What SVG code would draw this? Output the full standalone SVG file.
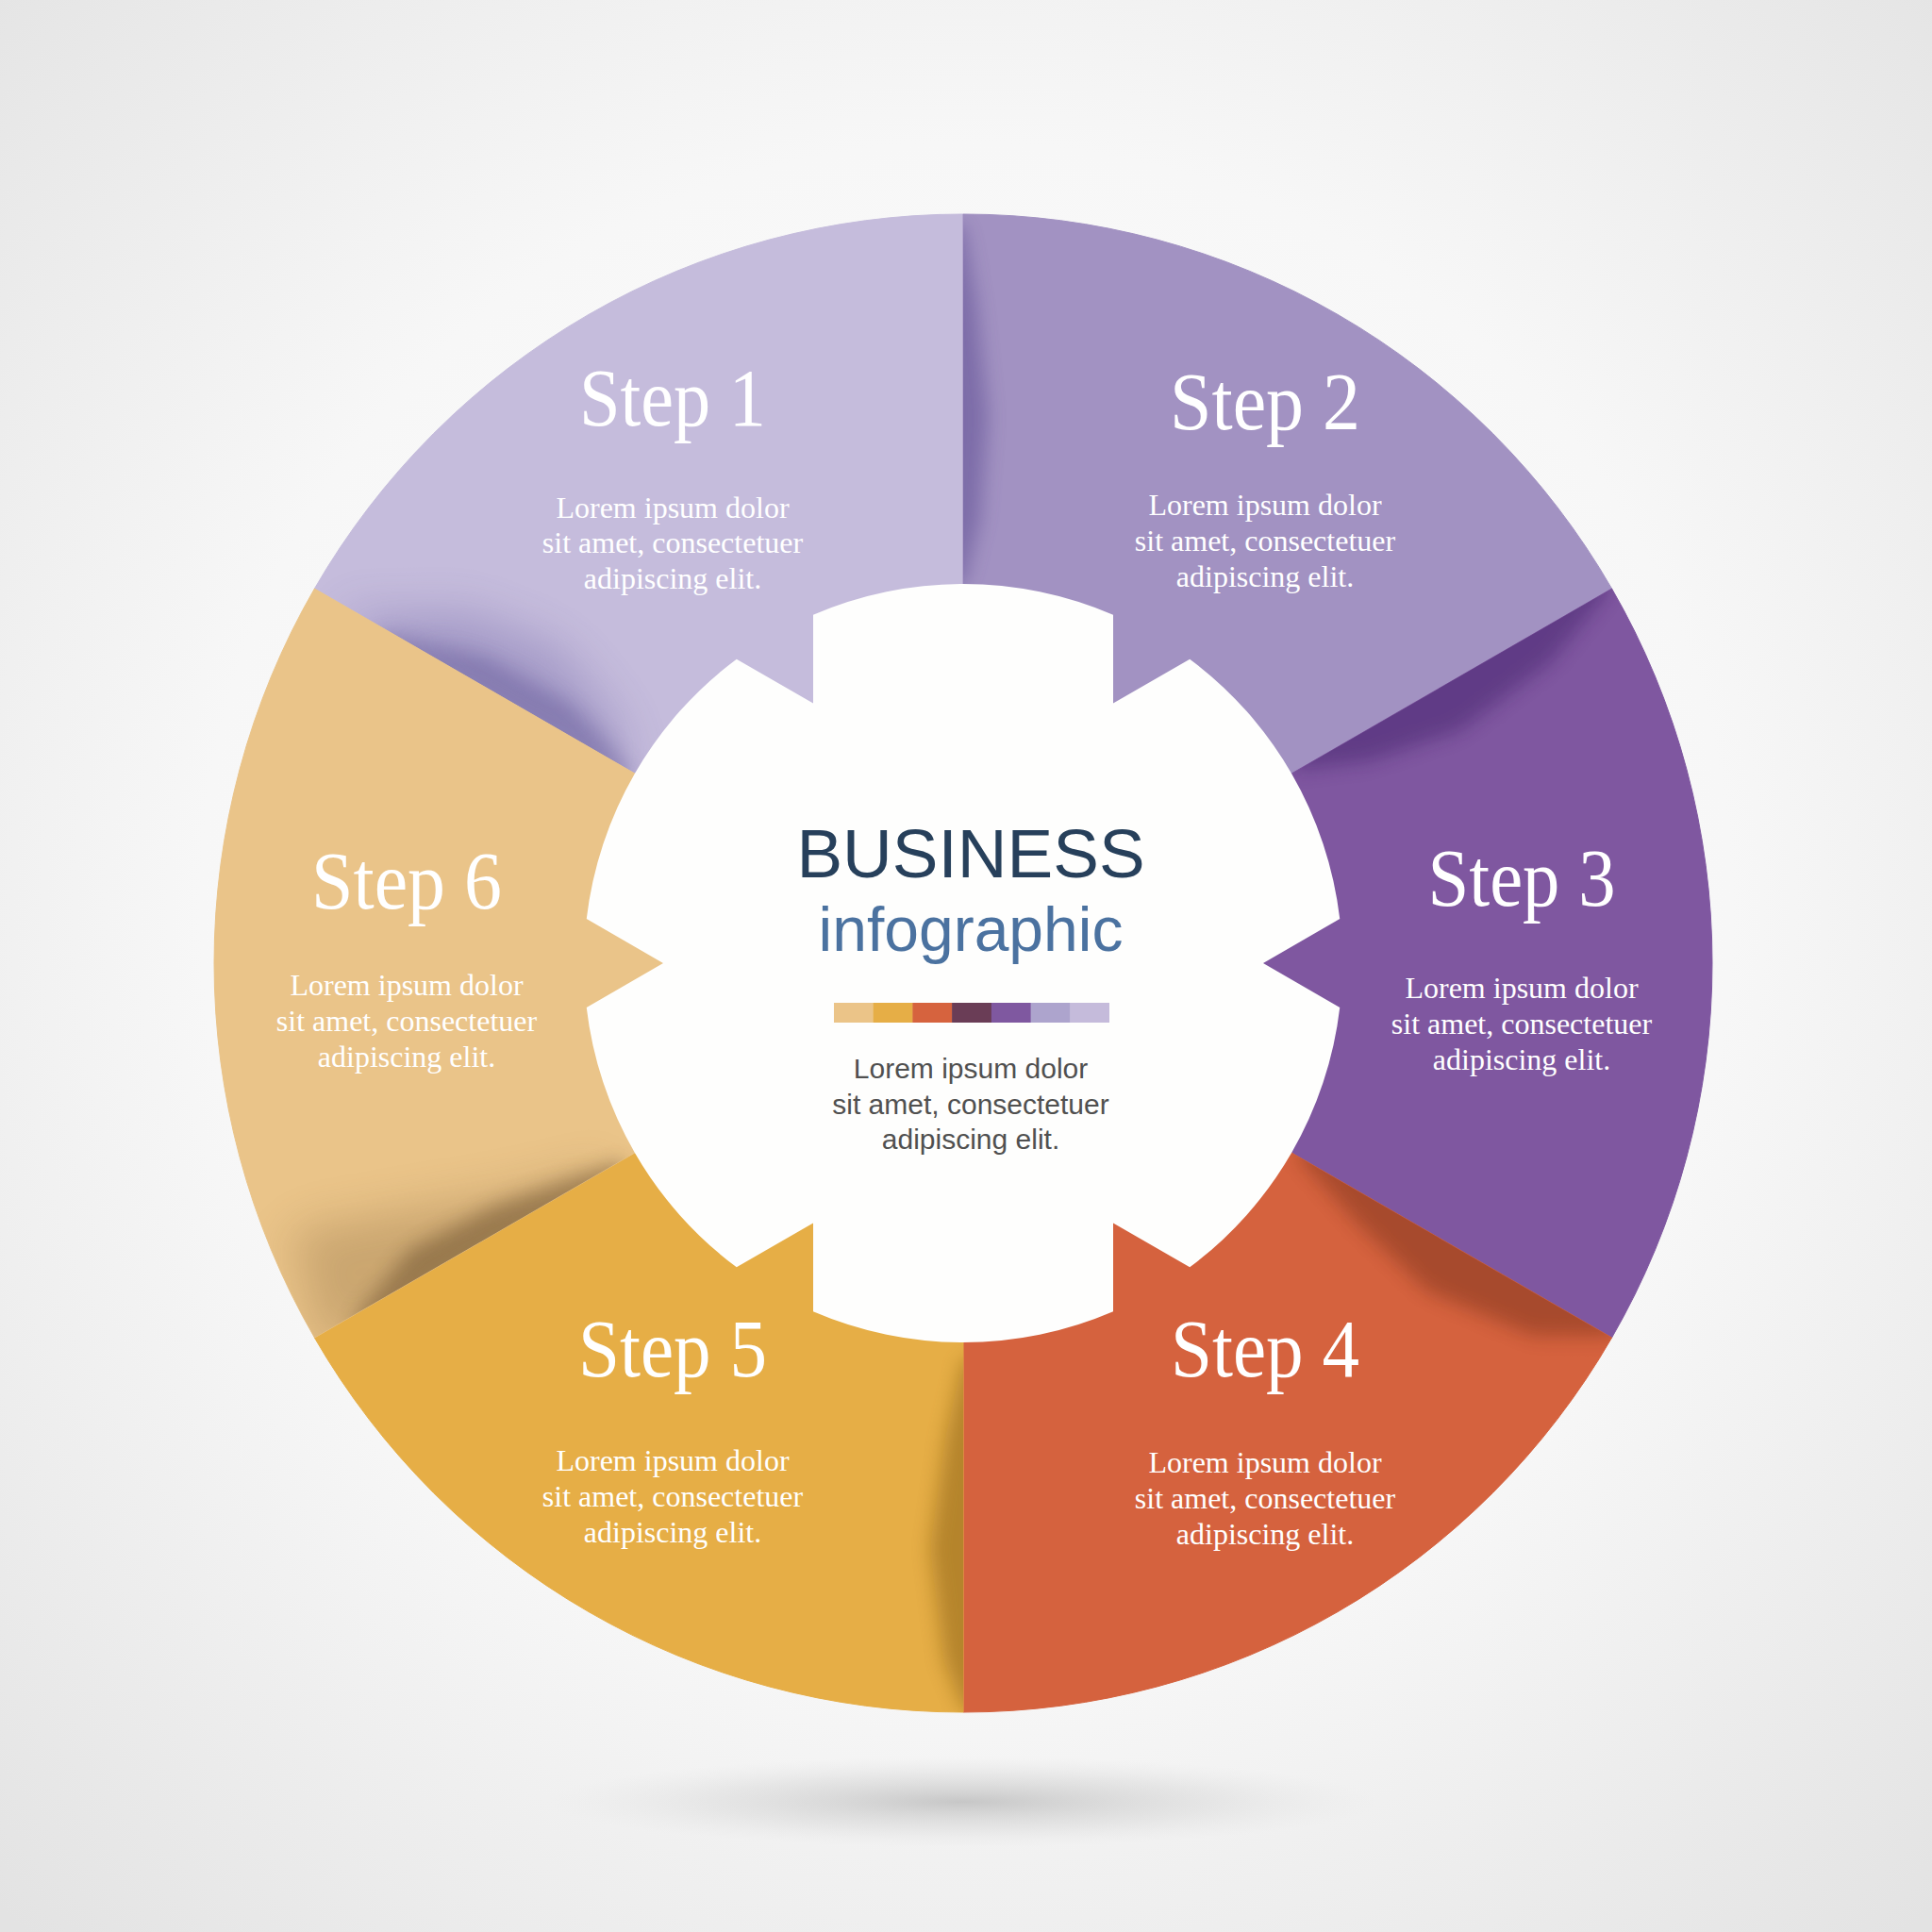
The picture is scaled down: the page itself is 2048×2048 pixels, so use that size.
<svg xmlns="http://www.w3.org/2000/svg" width="2048" height="2048" viewBox="0 0 2048 2048">
  <defs>
    <style>
      .title { font-family: "Liberation Serif", "Times New Roman", serif; font-size: 86px; fill: #ffffff; text-anchor: middle; }
      .body { font-family: "Liberation Serif", "Times New Roman", serif; font-size: 32px; fill: #ffffff; text-anchor: middle; }
      .ctext { font-family: "Liberation Sans", Arial, sans-serif; font-size: 30px; fill: #505050; text-anchor: middle; }
      .curl { filter: url(#blur); }
      .soft { filter: url(#blurWide); }
    </style>
    <radialGradient id="bg" cx="50%" cy="47%" r="72%">
      <stop offset="0" stop-color="#ffffff"/>
      <stop offset="0.55" stop-color="#f7f7f7"/>
      <stop offset="1" stop-color="#e3e3e3"/>
    </radialGradient>
    <radialGradient id="floor" cx="50%" cy="50%" r="50%">
      <stop offset="0" stop-color="#b8b8b8" stop-opacity="0.75"/>
      <stop offset="0.6" stop-color="#cfcfcf" stop-opacity="0.35"/>
      <stop offset="1" stop-color="#e0e0e0" stop-opacity="0"/>
    </radialGradient>
    <filter id="blur" filterUnits="userSpaceOnUse" x="-1100" y="-1100" width="2200" height="2200">
      <feGaussianBlur stdDeviation="10"/>
    </filter>
    <filter id="blurWide" filterUnits="userSpaceOnUse" x="-1100" y="-1100" width="2200" height="2200">
      <feGaussianBlur stdDeviation="24"/>
    </filter>
    <clipPath id="c1"><path d="M1021 1021 L1021 227 A794 794 0 0 0 333.4 624 Z"/></clipPath>
    <clipPath id="c2"><path d="M1021 1021 L1708.6 624 A794 794 0 0 0 1021 227 Z"/></clipPath>
    <clipPath id="c3"><path d="M1021 1021 L1708.6 1418 A794 794 0 0 0 1708.6 624 Z"/></clipPath>
    <clipPath id="c4"><path d="M1021 1021 L1021 1815 A794 794 0 0 0 1708.6 1418 Z"/></clipPath>
    <clipPath id="c5"><path d="M1021 1021 L333.4 1418 A794 794 0 0 0 1021 1815 Z"/></clipPath>
    <clipPath id="c6"><path d="M1021 1021 L333.4 624 A794 794 0 0 0 333.4 1418 Z"/></clipPath>
  </defs>

  <g id="background">
    <rect x="0" y="0" width="2048" height="2048" fill="url(#bg)"/>
    <ellipse cx="1021" cy="1910" rx="440" ry="48" fill="url(#floor)"/>
  </g>

  <g id="step1">
    <path d="M1021 1021 L1021 227 A794 794 0 0 0 333.4 624 Z" fill="#c5bcdc" stroke="#c5bcdc" stroke-width="1"/>
    <g clip-path="url(#c1)">
      <polygon class="soft" transform="translate(1021 1021) rotate(-150)" points="410,-20 760,-20 740,0 640,60 540,75 450,40 410,0" fill="#5c4f99" opacity="0.3"/>
      <polygon class="curl" transform="translate(1021 1021) rotate(-150)" points="405,-20 720,-20 700,0 600,28 500,30 440,14 405,0" fill="#4b3f86" opacity="0.35"/>
    </g>
    <text class="title" x="713" y="451" textLength="198" lengthAdjust="spacingAndGlyphs">Step 1</text>
    <text class="body" x="713" y="549">Lorem ipsum dolor</text>
    <text class="body" x="713" y="586">sit amet, consectetuer</text>
    <text class="body" x="713" y="624">adipiscing elit.</text>
  </g>

  <g id="step2">
    <path d="M1021 1021 L1708.6 624 A794 794 0 0 0 1021 227 Z" fill="#a292c2" stroke="#a292c2" stroke-width="1"/>
    <g clip-path="url(#c2)">
      <polygon class="curl" transform="translate(1021 1021) rotate(-90)" points="400,-25 790,-25 780,0 700,14 580,26 470,18 400,0" fill="#4b3a86" opacity="0.42"/>
    </g>
    <text class="title" x="1341" y="455" textLength="202" lengthAdjust="spacingAndGlyphs">Step 2</text>
    <text class="body" x="1341" y="546">Lorem ipsum dolor</text>
    <text class="body" x="1341" y="584">sit amet, consectetuer</text>
    <text class="body" x="1341" y="622">adipiscing elit.</text>
  </g>

  <g id="step3">
    <path d="M1021 1021 L1708.6 1418 A794 794 0 0 0 1708.6 624 Z" fill="#7f57a0" stroke="#7f57a0" stroke-width="1"/>
    <g clip-path="url(#c3)">
      <polygon class="curl" transform="translate(1021 1021) rotate(-30)" points="410,-25 800,-25 790,0 700,35 580,50 480,30 410,0" fill="#3e1f66" opacity="0.45"/>
    </g>
    <text class="title" x="1613" y="960" textLength="199" lengthAdjust="spacingAndGlyphs">Step 3</text>
    <text class="body" x="1613" y="1058">Lorem ipsum dolor</text>
    <text class="body" x="1613" y="1096">sit amet, consectetuer</text>
    <text class="body" x="1613" y="1134">adipiscing elit.</text>
  </g>

  <g id="step4">
    <path d="M1021 1021 L1021 1815 A794 794 0 0 0 1708.6 1418 Z" fill="#d5623e" stroke="#d5623e" stroke-width="1"/>
    <g clip-path="url(#c4)">
      <polygon class="curl" transform="translate(1021 1021) rotate(-330)" points="410,-25 800,-25 790,0 720,40 600,55 500,30 410,0" fill="#6a2a12" opacity="0.42"/>
    </g>
    <text class="title" x="1341" y="1459" textLength="200" lengthAdjust="spacingAndGlyphs">Step 4</text>
    <text class="body" x="1341" y="1561">Lorem ipsum dolor</text>
    <text class="body" x="1341" y="1599">sit amet, consectetuer</text>
    <text class="body" x="1341" y="1637">adipiscing elit.</text>
  </g>

  <g id="step5">
    <path d="M1021 1021 L333.4 1418 A794 794 0 0 0 1021 1815 Z" fill="#e6ae46" stroke="#e6ae46" stroke-width="1"/>
    <g clip-path="url(#c5)">
      <polygon class="curl" transform="translate(1021 1021) rotate(-270)" points="420,-25 800,-25 790,0 740,20 620,35 500,18 420,0" fill="#7a5310" opacity="0.45"/>
    </g>
    <text class="title" x="713" y="1459" textLength="200" lengthAdjust="spacingAndGlyphs">Step 5</text>
    <text class="body" x="713" y="1559">Lorem ipsum dolor</text>
    <text class="body" x="713" y="1597">sit amet, consectetuer</text>
    <text class="body" x="713" y="1635">adipiscing elit.</text>
  </g>

  <g id="step6">
    <path d="M1021 1021 L333.4 624 A794 794 0 0 0 333.4 1418 Z" fill="#eac489" stroke="#eac489" stroke-width="1"/>
    <g clip-path="url(#c6)">
      <polygon class="soft" transform="translate(1021 1021) rotate(-210)" points="440,-20 800,-20 790,0 760,110 660,75 540,30 440,0" fill="#7a5a30" opacity="0.28"/>
      <polygon class="curl" transform="translate(1021 1021) rotate(-210)" points="420,-20 760,-20 740,0 660,30 560,26 470,10 420,0" fill="#5a4020" opacity="0.45"/>
    </g>
    <text class="title" x="431" y="963" textLength="202" lengthAdjust="spacingAndGlyphs">Step 6</text>
    <text class="body" x="431" y="1055">Lorem ipsum dolor</text>
    <text class="body" x="431" y="1093">sit amet, consectetuer</text>
    <text class="body" x="431" y="1131">adipiscing elit.</text>
  </g>

  <g id="center">
    <path d="M1420.25 974.1 A402 402 0 0 0 1261.2 698.7 L1180 745.6 L1180 651.8 A402 402 0 0 0 862 651.8 L862 745.6 L780.8 698.7 A402 402 0 0 0 621.75 974.1 L703 1021 L621.75 1067.9 A402 402 0 0 0 780.8 1343.3 L862 1296.4 L862 1390.2 A402 402 0 0 0 1180 1390.2 L1180 1296.4 L1261.2 1343.3 A402 402 0 0 0 1420.25 1067.9 L1339 1021 Z" fill="#fefefd"/>
    <text x="1029" y="930" font-family="'Liberation Sans', Arial, sans-serif" font-size="73" fill="#27405b" text-anchor="middle">BUSINESS</text>
    <text x="1029" y="1008" font-family="'Liberation Sans', Arial, sans-serif" font-size="66" fill="#4b72a0" text-anchor="middle">infographic</text>
    <g id="colorbar">
      <rect x="884" y="1063" width="42.2" height="21" fill="#ebc488"/>
      <rect x="925.7" y="1063" width="42.2" height="21" fill="#e6ae46"/>
      <rect x="967.4" y="1063" width="42.2" height="21" fill="#d6633e"/>
      <rect x="1009.1" y="1063" width="42.2" height="21" fill="#6a3d56"/>
      <rect x="1050.9" y="1063" width="42.2" height="21" fill="#7f58a0"/>
      <rect x="1092.6" y="1063" width="42.2" height="21" fill="#ada4cd"/>
      <rect x="1134.3" y="1063" width="41.7" height="21" fill="#c5bbdb"/>
    </g>
    <text class="ctext" x="1029" y="1143">Lorem ipsum dolor</text>
    <text class="ctext" x="1029" y="1181">sit amet, consectetuer</text>
    <text class="ctext" x="1029" y="1218">adipiscing elit.</text>
  </g>
</svg>
